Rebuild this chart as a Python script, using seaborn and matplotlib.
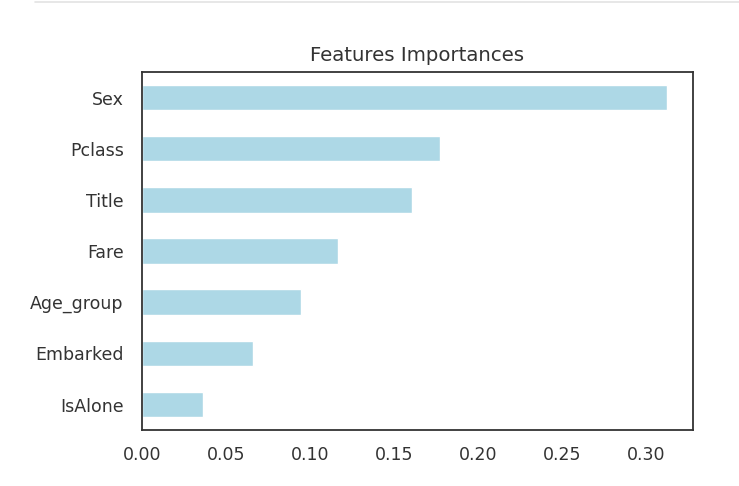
import matplotlib
matplotlib.use("Agg")
import matplotlib.pyplot as plt
import seaborn as sns
import pandas as pd
from matplotlib.lines import Line2D

features = ["Sex", "Pclass", "Title", "Fare", "Age_group", "Embarked", "IsAlone"]
importances = [0.3125, 0.1777, 0.1610, 0.1165, 0.0948, 0.0664, 0.0366]

sns.set_theme(style="white")
plt.rcParams["font.family"] = ["DejaVu Sans"]

df = pd.DataFrame({"feature": features, "importance": importances})

fig = plt.figure(figsize=(7.39, 4.86), dpi=100)
ax = fig.add_axes([0.192, 0.115, 0.746, 0.737])

sns.barplot(data=df, x="importance", y="feature", orient="h",
            color="lightblue", saturation=1, width=0.5, ax=ax)

ax.set_xlim(0, max(importances) * 1.05)
ax.set_ylim(len(features) - 0.5, -0.5)
ax.set_xticks([0.0, 0.05, 0.10, 0.15, 0.20, 0.25, 0.30])
ax.set_xticklabels(["0.00", "0.05", "0.10", "0.15", "0.20", "0.25", "0.30"])
ax.set_xlabel("")
ax.set_ylabel("")
ax.tick_params(labelsize=12.5, colors="#333333")
ax.tick_params(axis="y", pad=7)
ax.tick_params(axis="x", pad=5.5)
ax.set_title("Features Importances", fontsize=14.2, color="#333333", pad=8)
for s in ax.spines.values():
    s.set_color(".2")
    s.set_linewidth(1.3)

# thin separator line at the very top (notebook cell border)
fig.add_artist(Line2D([0.047, 1.0], [0.996, 0.996], color="#e3e3e3", lw=1.2,
                      transform=fig.transFigure))

fig.savefig("out.png", dpi=100)
